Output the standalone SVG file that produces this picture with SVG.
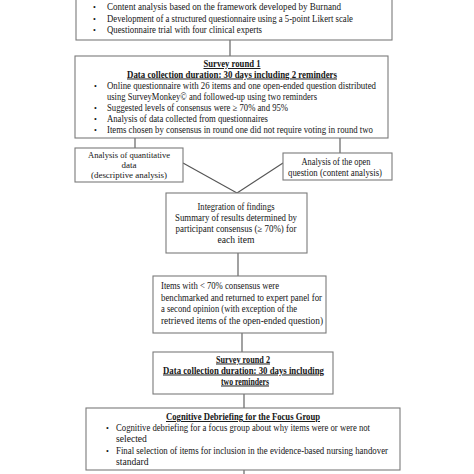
<svg xmlns="http://www.w3.org/2000/svg" width="474" height="474" viewBox="0 0 474 474">
<style>
.box{fill:#fff;stroke:#7a7a7a;stroke-width:1.1}
.ln{stroke:#555;stroke-width:1.1;fill:none}
text{font-family:"Liberation Serif","DejaVu Serif",serif;font-size:9.6px;fill:#151515}
.c{text-anchor:middle}
.b{font-weight:bold;text-decoration:underline}
.d{font-size:8px}
.s{font-size:9px}
</style>
<rect width="474" height="474" fill="#fff"/>
<g id="connectors">
<line class="ln" x1="230" y1="40" x2="230" y2="56"/>
<line class="ln" x1="135" y1="138" x2="135" y2="148"/>
<line class="ln" x1="340" y1="138" x2="340" y2="153"/>
<line class="ln" x1="183" y1="163" x2="237" y2="193"/>
<line class="ln" x1="283" y1="163" x2="237" y2="193"/>
<line class="ln" x1="238" y1="253" x2="238" y2="276"/>
<line class="ln" x1="242" y1="333" x2="242" y2="352"/>
<line class="ln" x1="244" y1="394" x2="244" y2="408"/>
<line class="ln" x1="244" y1="470" x2="244" y2="474"/>
</g>
<g id="node-top">
<rect class="box" x="76" y="-3" width="316" height="43"/>
<text class="d" x="93" y="10">•</text><text x="107" y="10" textLength="234" lengthAdjust="spacingAndGlyphs">Content analysis based on the framework developed by Burnand</text>
<text class="d" x="93" y="22">•</text><text x="107" y="22" textLength="246" lengthAdjust="spacingAndGlyphs">Development of a structured questionnaire using a 5-point Likert scale</text>
<text class="d" x="93" y="33">•</text><text x="107" y="33" textLength="155" lengthAdjust="spacingAndGlyphs">Questionnaire trial with four clinical experts</text>
</g>
<g id="node-survey1">
<rect class="box" x="75" y="56" width="313" height="82"/>
<text class="c b" x="232" y="67" textLength="57" lengthAdjust="spacingAndGlyphs">Survey round 1</text>
<text class="c b" x="232" y="77.5" textLength="210" lengthAdjust="spacingAndGlyphs">Data collection duration: 30 days including 2 reminders</text>
<text class="d" x="94" y="88.5">•</text><text x="107" y="88.5" textLength="269" lengthAdjust="spacingAndGlyphs">Online questionnaire with 26 items and one open-ended question distributed</text>
<text x="107" y="100" textLength="210" lengthAdjust="spacingAndGlyphs">using SurveyMonkey© and followed-up using two reminders</text>
<text class="d" x="94" y="110.5">•</text><text x="107" y="110.5" textLength="181" lengthAdjust="spacingAndGlyphs">Suggested levels of consensus were ≥ 70% and 95%</text>
<text class="d" x="94" y="121.5">•</text><text x="107" y="121.5" textLength="161" lengthAdjust="spacingAndGlyphs">Analysis of data collected from questionnaires</text>
<text class="d" x="94" y="132.5">•</text><text x="107" y="132.5" textLength="266" lengthAdjust="spacingAndGlyphs">Items chosen by consensus in round one did not require voting in round two</text>
</g>
<g id="node-quant">
<rect class="box" x="75" y="148" width="108" height="34"/>
<text class="c s" x="129" y="157.5" textLength="82" lengthAdjust="spacingAndGlyphs">Analysis of quantitative</text>
<text class="c s" x="129" y="167.5">data</text>
<text class="c s" x="129" y="177.5" textLength="76" lengthAdjust="spacingAndGlyphs">(descriptive analysis)</text>
</g>
<g id="node-open">
<rect class="box" x="283" y="153" width="109" height="27"/>
<text class="c" x="336" y="165" textLength="69" lengthAdjust="spacingAndGlyphs">Analysis of the open</text>
<text class="c" x="335" y="175.5" textLength="94" lengthAdjust="spacingAndGlyphs">question (content analysis)</text>
</g>
<g id="node-integration">
<rect class="box" x="166" y="193" width="141" height="60"/>
<text class="c" x="236" y="210" textLength="77" lengthAdjust="spacingAndGlyphs">Integration of findings</text>
<text class="c" x="236" y="221" textLength="122" lengthAdjust="spacingAndGlyphs">Summary of results determined by</text>
<text class="c" x="236" y="232" textLength="121" lengthAdjust="spacingAndGlyphs">participant consensus (≥ 70%) for</text>
<text class="c" x="236" y="243">each item</text>
</g>
<g id="node-items">
<rect class="box" x="153" y="276" width="173" height="57"/>
<text x="161" y="289" textLength="118" lengthAdjust="spacingAndGlyphs">Items with &lt; 70% consensus were</text>
<text x="161" y="300.5" textLength="161" lengthAdjust="spacingAndGlyphs">benchmarked and returned to expert panel for</text>
<text x="161" y="312" textLength="136" lengthAdjust="spacingAndGlyphs">a second opinion (with exception of the</text>
<text x="161" y="324" textLength="162" lengthAdjust="spacingAndGlyphs">retrieved items of the open-ended question)</text>
</g>
<g id="node-survey2">
<rect class="box" x="153" y="352" width="180" height="42"/>
<text class="c b" x="243" y="362.5" textLength="54" lengthAdjust="spacingAndGlyphs">Survey round 2</text>
<text class="c b" x="243.5" y="373.5" textLength="161" lengthAdjust="spacingAndGlyphs">Data collection duration: 30 days including</text>
<text class="c b" x="245" y="384.5" textLength="48" lengthAdjust="spacingAndGlyphs">two reminders</text>
</g>
<g id="node-debrief">
<rect class="box" x="86" y="408" width="314" height="62"/>
<text class="c b" x="243" y="420" textLength="154" lengthAdjust="spacingAndGlyphs">Cognitive Debriefing for the Focus Group</text>
<text class="d" x="106" y="430.5">•</text><text x="116" y="430.5" textLength="254" lengthAdjust="spacingAndGlyphs">Cognitive debriefing for a focus group about why items were or were not</text>
<text x="116" y="441.5">selected</text>
<text class="d" x="106" y="453.5">•</text><text x="116" y="453.5" textLength="272" lengthAdjust="spacingAndGlyphs">Final selection of items for inclusion in the evidence-based nursing handover</text>
<text x="116" y="465">standard</text>
</g>
</svg>
